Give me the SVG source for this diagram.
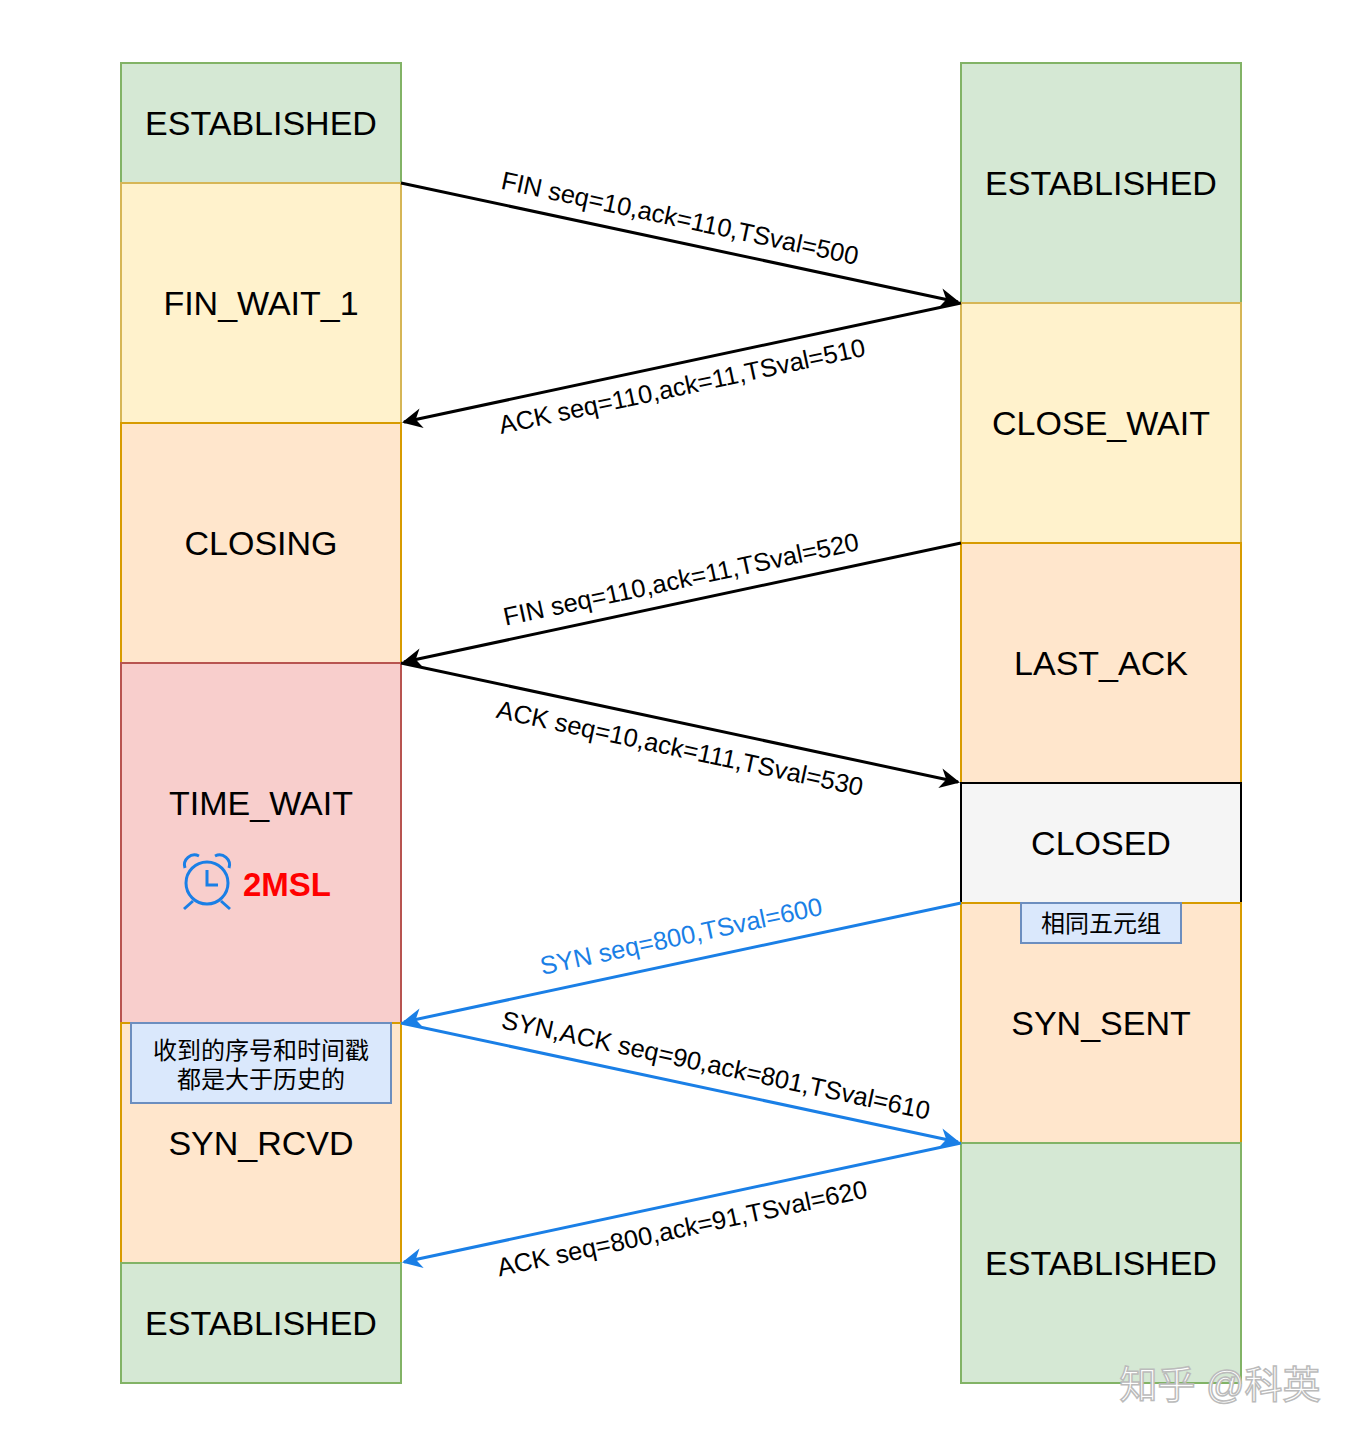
<svg xmlns="http://www.w3.org/2000/svg" width="1360" height="1440" viewBox="0 0 1360 1440">
<style>
.n{font-family:"Liberation Sans",Arial,sans-serif;font-size:34px;fill:#000;text-anchor:middle;dominant-baseline:central}
.l{font-family:"Liberation Sans",Arial,sans-serif;font-size:25.5px;fill:#000;text-anchor:middle;dominant-baseline:central}
.b{fill:#1a7fe6}
.c{font-family:"Liberation Sans","Noto Sans CJK SC",sans-serif;font-size:24px;fill:#000;text-anchor:middle;dominant-baseline:central}
.g{fill:#d5e8d4;stroke:#82b366;stroke-width:2}
.y{fill:#fff2cc;stroke:#d6b656;stroke-width:2}
.o{fill:#ffe6cc;stroke:#d79b00;stroke-width:2}
.r{fill:#f8cecc;stroke:#b85450;stroke-width:2}
.s{fill:#dae8fc;stroke:#6c8ebf;stroke-width:2}
.k{stroke:#000;stroke-width:3;fill:none}
.bl{stroke:#1a7fe6;stroke-width:3;fill:none}
</style>
<defs>
<marker id="ak" viewBox="0 0 10 10" refX="9" refY="5" markerWidth="24" markerHeight="20" markerUnits="userSpaceOnUse" orient="auto"><path d="M0,0 L10,5 L0,10 L3,5 Z" fill="#000"/></marker>
<marker id="ab" viewBox="0 0 10 10" refX="9" refY="5" markerWidth="24" markerHeight="20" markerUnits="userSpaceOnUse" orient="auto"><path d="M0,0 L10,5 L0,10 L3,5 Z" fill="#1a7fe6"/></marker>
</defs>
<rect width="1360" height="1440" fill="#fff"/>
<g id="l1"><rect class="g" x="121" y="63" width="280" height="120"/><text class="n" x="261" y="123">ESTABLISHED</text></g>
<g id="l2"><rect class="y" x="121" y="183" width="280" height="240"/><text class="n" x="261" y="303">FIN_WAIT_1</text></g>
<g id="l3"><rect class="o" x="121" y="423" width="280" height="240"/><text class="n" x="261" y="543">CLOSING</text></g>
<g id="l4"><rect class="r" x="121" y="663" width="280" height="360"/><text class="n" x="261" y="803">TIME_WAIT</text>
<g fill="none" stroke="#1a7fe6" stroke-width="3"><circle cx="207" cy="883" r="21"/><path d="M207 870 V885 H218"/><path d="M185 868 a10 10 0 0 1 14 -12"/><path d="M229 868 a10 10 0 0 0 -14 -12"/><path d="M193 901 L184 909 M221 901 L230 909"/></g>
<text x="243" y="884" font-family="Liberation Sans,Arial,sans-serif" font-size="33" font-weight="bold" fill="#ff0000" dominant-baseline="central">2MSL</text></g>
<g id="l5"><rect class="o" x="121" y="1023" width="280" height="240"/><text class="n" x="261" y="1143">SYN_RCVD</text></g>
<g id="l6"><rect class="g" x="121" y="1263" width="280" height="120"/><text class="n" x="261" y="1323">ESTABLISHED</text></g>
<g id="r1"><rect class="g" x="961" y="63" width="280" height="240"/><text class="n" x="1101" y="183">ESTABLISHED</text></g>
<g id="r2"><rect class="y" x="961" y="303" width="280" height="240"/><text class="n" x="1101" y="423">CLOSE_WAIT</text></g>
<g id="r3"><rect class="o" x="961" y="543" width="280" height="240"/><text class="n" x="1101" y="663">LAST_ACK</text></g>
<g id="r4"><rect x="961" y="783" width="280" height="120" fill="#f5f5f5" stroke="#000" stroke-width="2"/><text class="n" x="1101" y="843" fill="#333">CLOSED</text></g>
<g id="r5"><rect class="o" x="961" y="903" width="280" height="240"/><text class="n" x="1101" y="1023">SYN_SENT</text></g>
<g id="r6"><rect class="g" x="961" y="1143" width="280" height="240"/><text class="n" x="1101" y="1263">ESTABLISHED</text></g>
<g id="n1"><rect class="s" x="1021" y="903" width="160" height="40"/><text class="c" x="1101" y="923">相同五元组</text></g>
<g id="n2"><rect class="s" x="131" y="1023" width="260" height="80"/><text class="c" x="261" y="1050">收到的序号和时间戳</text><text class="c" x="261" y="1079">都是大于历史的</text></g>
<g id="connectors">
<path class="k" d="M401 183 L958 302" marker-end="url(#ak)"/>
<path class="k" d="M961 303 L404 422" marker-end="url(#ak)"/>
<path class="k" d="M961 543 L404 662" marker-end="url(#ak)"/>
<path class="k" d="M401 663 L958 782" marker-end="url(#ak)"/>
<path class="bl" d="M961 903 L404 1022" marker-end="url(#ab)"/>
<path class="bl" d="M401 1023 L958 1142" marker-end="url(#ab)"/>
<path class="bl" d="M961 1143 L404 1262" marker-end="url(#ab)"/>
<text class="l" transform="translate(680 218) rotate(12.1)">FIN seq=10,ack=110,TSval=500</text>
<text class="l" transform="translate(682 386) rotate(-12.1)">ACK seq=110,ack=11,TSval=510</text>
<text class="l" transform="translate(681 579) rotate(-12.1)">FIN seq=110,ack=11,TSval=520</text>
<text class="l" transform="translate(680 748) rotate(12.1)">ACK seq=10,ack=111,TSval=530</text>
<text class="l b" transform="translate(681 936) rotate(-12.1)">SYN seq=800,TSval=600</text>
<text class="l" transform="translate(716 1065) rotate(12.1)">SYN,ACK seq=90,ack=801,TSval=610</text>
<text class="l" transform="translate(682 1228) rotate(-12.1)">ACK seq=800,ack=91,TSval=620</text>
</g>
<text x="1220" y="1385" font-family="Liberation Sans,Noto Sans CJK SC,sans-serif" font-size="38" fill="#fff" stroke="#bbb" stroke-width="1.5" text-anchor="middle" dominant-baseline="central">知乎 @科英</text>
</svg>
